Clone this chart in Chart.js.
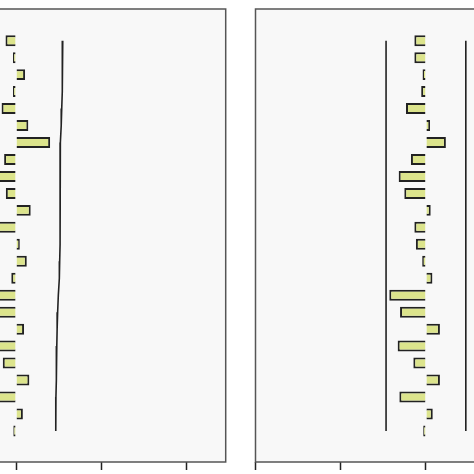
<!DOCTYPE html>
<html lang="en">
<head>
    <meta charset="UTF-8">
    <title>ACF / PACF</title>
    <script src="https://cdn.jsdelivr.net/npm/chart.js"></script>
    <style>
        html, body { margin: 0; padding: 0; background: #fff; overflow: hidden; width: 474px; height: 474px; }
        .panel { position: absolute; top: 0; height: 474px; }
        #acfBox { left: -240px; width: 480px; }
        #pacfBox { left: 245px; width: 400px; }
    </style>
</head>
<body>
    <div id="acfBox" class="panel"><canvas id="acfChart"></canvas></div>
    <div id="pacfBox" class="panel"><canvas id="pacfChart"></canvas></div>

    <script>
        // lags, top to bottom
        const lags = [1, 2, 3, 4, 5, 6, 7, 8, 9, 10, 11, 12, 13, 14, 15, 16, 17, 18, 19, 20, 21, 22, 23, 24];

        // autocorrelation (left panel)
        const acfValues = [-0.062, -0.018, 0.053, -0.018, -0.085, 0.072, 0.2, -0.07, -0.13, -0.06, 0.086, -0.11,
                           0.022, 0.063, -0.028, -0.14, -0.12, 0.047, -0.13, -0.078, 0.078, -0.12, 0.04, -0.016];
        const acfUpper = [0.274, 0.273, 0.271, 0.270, 0.268, 0.265, 0.260, 0.259, 0.259, 0.258, 0.258, 0.258,
                          0.258, 0.256, 0.254, 0.248, 0.244, 0.241, 0.239, 0.237, 0.236, 0.234, 0.233, 0.233];

        // partial autocorrelation (right panel)
        const pacfValues = [-0.068, -0.068, -0.02, -0.028, -0.117, 0.024, 0.117, -0.088, -0.16, -0.127, 0.028, -0.068,
                            -0.059, -0.022, 0.038, -0.215, -0.152, 0.082, -0.166, -0.074, 0.082, -0.156, 0.04, -0.016];
        const pacfLimit = 0.234;

        const xTicks = [-1, -0.5, 0, 0.5, 1];

        const barFill = 'rgb(220, 228, 140)';
        const ink = '#222';

        const framePlugin = {
            id: 'frame',
            beforeDraw(chart) {
                const { ctx, chartArea: a } = chart;
                ctx.save();
                ctx.fillStyle = '#f8f8f8';
                ctx.fillRect(a.left, a.top, a.right - a.left, a.bottom - a.top);
                ctx.restore();
            },
            afterDraw(chart) {
                const { ctx, chartArea: a } = chart;
                ctx.save();
                ctx.strokeStyle = '#555';
                ctx.lineWidth = 1.5;
                ctx.strokeRect(a.left, a.top, a.right - a.left, a.bottom - a.top);
                ctx.restore();
            }
        };

        function pairs(values) {
            return values.map((v, i) => ({ x: v, y: lags[i] }));
        }

        function makeChart(id, bars, lines, xMin, xMax, padLeft, padRight) {
            const datasets = [{
                type: 'bar',
                data: pairs(bars),
                backgroundColor: barFill,
                borderColor: ink,
                borderWidth: 2,
                barPercentage: 0.78,
                categoryPercentage: 1,
                order: 2
            }];
            lines.forEach(l => datasets.push({
                type: 'line',
                indexAxis: 'y',
                data: pairs(l),
                borderColor: ink,
                borderWidth: 1.6,
                pointRadius: 0,
                tension: 0,
                fill: false,
                order: 1
            }));

            return new Chart(document.getElementById(id), {
                data: { datasets },
                options: {
                    indexAxis: 'y',
                    responsive: true,
                    maintainAspectRatio: false,
                    animation: false,
                    layout: { padding: { top: 9, bottom: 0, left: padLeft, right: padRight } },
                    plugins: { legend: { display: false }, tooltip: { enabled: false } },
                    scales: {
                        x: {
                            type: 'linear',
                            min: xMin,
                            max: xMax,
                            afterBuildTicks: s => { s.ticks = xTicks.map(v => ({ value: v })); },
                            afterFit: s => { s.height = 12; },
                            ticks: { display: false },
                            border: { display: false },
                            grid: {
                                drawOnChartArea: false,
                                drawTicks: true,
                                tickLength: 8,
                                tickColor: ink,
                                tickWidth: 1.5
                            }
                        },
                        y: {
                            type: 'linear',
                            reverse: true,
                            offset: false,
                            min: -0.868,
                            max: 25.83,
                            display: false
                        }
                    }
                },
                plugins: [framePlugin]
            });
        }

        makeChart('acfChart', acfValues, [acfUpper, acfUpper.map(v => -v)], -1.25, 1.23, 43, 14.3);
        makeChart('pacfChart', pacfValues, [lags.map(() => pacfLimit), lags.map(() => -pacfLimit)], -1, 1.25, 10.5, 6);
    </script>
</body>
</html>
